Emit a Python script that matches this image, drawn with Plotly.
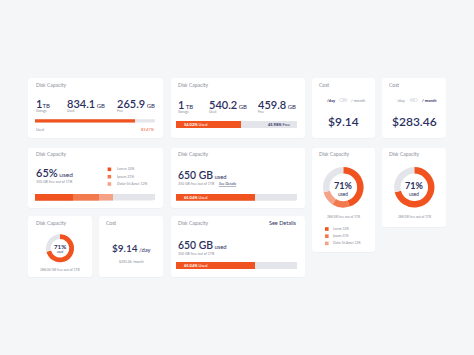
import plotly.graph_objects as go
import numpy as np

W, H = 474, 355

# ---------------- data ----------------
storage_total_tb = 1
storage_used_gb = [834.1, 540.2]
storage_free_gb = [265.9, 459.8]
used_pct_a = 83.47
used_pct_b = 54.02
free_pct_b = 45.98
cost_per_day = 9.14
cost_per_month = 283.46
usage_pct = 65
usage_free_gb = 350
breakdown_labels = ["Lorem", "Ipsum", "Dolor Sit Amet"]
breakdown_pct = [32, 21, 12]
used_gb_large = 650
used_pct_large = 65.04
donut_used_pct = 71
donut_breakdown = [45, 14, 12]          # arc sizes as drawn in the ring
donut_free_gb = 288
donut_free_gb_small = 288.06

# ---------------- style ----------------
BG = "#f5f6f8"
NAVY = "#2b2f5e"
GRAY = "#8b8e9a"
ORANGE = "#f0531f"
TRACK = "#e4e5ea"
SEG_COLORS = ["#f0531f", "#f27a4e", "#f5a287"]
FONT = "Lato"

def X(x):
    return x / W

def Y(y):
    return 1 - y / H

shapes = []
annotations = []

def rrect(x0, y0, x1, y1, r, fill, layer="below"):
    p = (f"M {X(x0+r)},{Y(y0)} L {X(x1-r)},{Y(y0)} Q {X(x1)},{Y(y0)} {X(x1)},{Y(y0+r)} "
         f"L {X(x1)},{Y(y1-r)} Q {X(x1)},{Y(y1)} {X(x1-r)},{Y(y1)} "
         f"L {X(x0+r)},{Y(y1)} Q {X(x0)},{Y(y1)} {X(x0)},{Y(y1-r)} "
         f"L {X(x0)},{Y(y0+r)} Q {X(x0)},{Y(y0)} {X(x0+r)},{Y(y0)} Z")
    shapes.append(dict(type="path", path=p, xref="paper", yref="paper",
                       fillcolor=fill, line=dict(width=0), layer=layer))

def txt(x, y, s, size, color=GRAY, xa="left", ya="middle", weight="normal"):
    annotations.append(dict(x=X(x), y=Y(y), xref="paper", yref="paper", text=s,
                            showarrow=False, xanchor=xa, yanchor=ya, borderpad=0,
                            font=dict(family=FONT, size=size, color=color, weight=weight)))

def unit(s, size, color=NAVY):
    return f"<span style='font-size:{size}px;font-weight:400;color:{color}'>{s}</span>"

# ---------------- cards ----------------
cards = [
    (28, 78, 163, 138), (171, 78, 305, 138), (312, 78, 375, 138), (382, 78, 446, 138),
    (28, 148, 163, 208), (171, 148, 305, 208), (312, 148, 375, 252), (382, 148, 446, 227),
    (28, 216, 92, 277), (99, 216, 163, 277), (171, 216, 305, 277),
]
for (x0, y0, x1, y1) in cards:
    rrect(x0, y0 + 0.6, x1, y1 + 0.8, 3, "#eceef1")
    rrect(x0, y0, x1, y1, 3, "#ffffff")

fig = go.Figure()

# ---------------- progress bars ----------------
def add_bar(idx, x0, y0, x1, y1, values, colors, radius):
    xa = "x" if idx == 1 else f"x{idx}"
    ya = "y" if idx == 1 else f"y{idx}"
    for v, c, rad in zip(values, colors, radius):
        fig.add_trace(go.Bar(x=[v], y=[0], orientation="h", width=1, xaxis=xa, yaxis=ya,
                             marker=dict(color=c, cornerradius=rad, line=dict(width=0)),
                             hoverinfo="skip", showlegend=False))
    sfx = "" if idx == 1 else str(idx)
    fig.layout[f"xaxis{sfx}"] = dict(domain=[X(x0), X(x1)], range=[0, 100],
                                     visible=False, fixedrange=True, anchor=ya)
    fig.layout[f"yaxis{sfx}"] = dict(domain=[Y(y1), Y(y0)], range=[-0.5, 0.5],
                                     visible=False, fixedrange=True, anchor=xa)

add_bar(1, 35, 119.3, 155, 122.5, [100, used_pct_a], [TRACK, ORANGE], [1.5, 1.5])
add_bar(2, 176, 120.5, 297, 128.3, [100, used_pct_b], [TRACK, ORANGE], [2, 2])
cum = np.cumsum(breakdown_pct)[::-1]
add_bar(3, 35, 193.7, 155, 200.5, [100] + list(cum), [TRACK] + SEG_COLORS[::-1], [2.5, 0, 0, 0])
add_bar(4, 176, 194, 297, 200.7, [100, used_pct_large], [TRACK, ORANGE], [2, 2])
add_bar(5, 176, 262, 297, 269.3, [100, used_pct_large], [TRACK, ORANGE], [2, 2])

# ---------------- donuts ----------------
def donut(cx, cy, r, values, colors, hole):
    fig.add_trace(go.Pie(values=values, marker=dict(colors=colors, line=dict(width=0)),
                         hole=hole, sort=False, direction="clockwise", rotation=0,
                         textinfo="none", hoverinfo="skip", showlegend=False,
                         domain=dict(x=[X(cx - r), X(cx + r)], y=[Y(cy + r), Y(cy - r)])))

donut(343.3, 187.3, 20.3, donut_breakdown + [100 - sum(donut_breakdown)], SEG_COLORS + [TRACK], 0.68)
donut(414.3, 187.3, 20.2, [donut_used_pct, 100 - donut_used_pct], [ORANGE, TRACK], 0.68)
donut(60, 248.3, 14, [donut_used_pct, 100 - donut_used_pct], [ORANGE, TRACK], 0.66)

# ---------------- card A ----------------
txt(35, 84.5, "Disk Capacity", 5)
txt(34.5, 103, f"{storage_total_tb}{unit('TB', 6)}", 11, NAVY, weight=600)
txt(65.5, 103, f"{storage_used_gb[0]}{unit(' GB', 6)}", 11, NAVY, weight=600)
txt(115.5, 103, f"{storage_free_gb[0]}{unit(' GB', 6)}", 11, NAVY, weight=600)
txt(35, 110.8, "Storage", 3.3)
txt(66, 110.8, "Used", 3.3)
txt(116, 110.8, "Free", 3.3)
txt(35, 130, "Used", 3.6)
txt(155, 130, f"{used_pct_a}%", 3.8, ORANGE, xa="right")

# ---------------- card B ----------------
txt(177, 84.5, "Disk Capacity", 5)
txt(176.5, 104, f"{storage_total_tb}{unit(' TB', 6)}", 11, NAVY, weight=600)
txt(207.5, 104, f"{storage_used_gb[1]}{unit(' GB', 6)}", 11, NAVY, weight=600)
txt(256.5, 104, f"{storage_free_gb[1]}{unit(' GB', 6)}", 11, NAVY, weight=600)
txt(177, 112, "Storage", 3.3)
txt(208, 112, "Used", 3.3)
txt(257, 112, "Free", 3.3)
txt(183, 124.5, f"<b>{used_pct_b}%</b> Used", 4, "#ffffff")
txt(291, 124.5, f"<b>{free_pct_b}%</b> Free", 4, NAVY, xa="right")

# ---------------- card C / D (cost toggles) ----------------
def toggle(x0, x1, y0, y1, knob_left):
    rrect(x0, y0, x1, y1, (y1 - y0) / 2, "#e6e7ec", layer="above")
    cx = x0 + 1.7 if knob_left else x1 - 1.7
    shapes.append(dict(type="circle", xref="paper", yref="paper",
                       x0=X(cx - 1.6), x1=X(cx + 1.6), y0=Y(100 + 1.6), y1=Y(100 - 1.6),
                       fillcolor="#ffffff", line=dict(color="#d2d4db", width=0.5), layer="above"))

txt(318, 84.5, "Cost", 5)
txt(337, 100, "<b>/day</b>", 4, NAVY, xa="right")
toggle(339.5, 347.5, 98.2, 101.8, True)
txt(350, 100, "/ month", 4, GRAY)
txt(343.5, 121.5, f"${cost_per_day}", 12, NAVY, xa="center", weight=600)

txt(388, 84.5, "Cost", 5)
txt(407, 100, "/day", 4, GRAY, xa="right")
toggle(409.5, 417.5, 98.2, 101.8, False)
txt(420.5, 100, "<b>/ month</b>", 4, NAVY)
txt(414.3, 121.5, f"${cost_per_month}", 12, NAVY, xa="center", weight=600)

# ---------------- card E ----------------
txt(35, 154, "Disk Capacity", 5)
txt(34.5, 172, f"{usage_pct}%{unit(' used', 6.5)}", 11, NAVY, weight=600)
txt(35, 181.7, f"{usage_free_gb} GB free out of 1TB", 3.5)
for i, (lab, pct) in enumerate(zip(breakdown_labels, breakdown_pct)):
    yy = [169.3, 176.7, 184][i]
    shapes.append(dict(type="rect", xref="paper", yref="paper", x0=X(107.6), x1=X(111.2),
                       y0=Y(yy + 1.8), y1=Y(yy - 1.8), fillcolor=SEG_COLORS[i],
                       line=dict(width=0), layer="above"))
    txt(115.5, yy, f"{lab} {pct}%", 3.5)

# ---------------- card F ----------------
txt(177, 154, "Disk Capacity", 5)
txt(176.5, 174.5, f"{used_gb_large} GB{unit(' used', 5.8)}", 10.4, NAVY, weight=600)
txt(176.5, 184, f"{1000 - used_gb_large} GB free out of 1TB", 3.5)
txt(218, 184, "<span style='text-decoration:underline'>See Details</span>", 3.5, NAVY)
txt(183, 197.3, f"<b>{used_pct_large}%</b> Used", 4, "#ffffff")

# ---------------- card G ----------------
txt(318, 154, "Disk Capacity", 5)
txt(343.3, 185, f"{donut_used_pct}%", 9, NAVY, xa="center", weight=700)
txt(343.3, 193.5, "used", 4.8, NAVY, xa="center")
txt(343.3, 216.7, f"{donut_free_gb} GB free out of 1TB", 3.2, GRAY, xa="center")
for i, (lab, pct) in enumerate(zip(breakdown_labels, breakdown_pct)):
    yy = [229, 236.2, 243.4][i]
    shapes.append(dict(type="rect", xref="paper", yref="paper", x0=X(325), x1=X(328.6),
                       y0=Y(yy + 1.8), y1=Y(yy - 1.8), fillcolor=SEG_COLORS[i],
                       line=dict(width=0), layer="above"))
    txt(331.8, yy, f"{lab} {pct}%", 3.2)

# ---------------- card H ----------------
txt(388, 154, "Disk Capacity", 5)
txt(414.3, 185, f"{donut_used_pct}%", 9, NAVY, xa="center", weight=700)
txt(414.3, 193.5, "used", 4.8, NAVY, xa="center")
txt(414.3, 216.7, f"{donut_free_gb} GB free out of 1TB", 3.2, GRAY, xa="center")

# ---------------- card I ----------------
txt(35, 222.7, "Disk Capacity", 5)
txt(60, 246.5, f"{donut_used_pct}%", 6.2, NAVY, xa="center", weight=700)
txt(60, 251.5, "used", 3, NAVY, xa="center")
txt(60, 269.7, f"{donut_free_gb_small} GB free out of 1TB", 3.4, GRAY, xa="center")

# ---------------- card J ----------------
txt(105, 222.7, "Cost", 5)
txt(131, 248, f"${cost_per_day}{unit(' /day', 5.8)}", 10, NAVY, xa="center", weight=600)
txt(131.5, 262, f"${cost_per_month} /month", 3.4, GRAY, xa="center")

# ---------------- card K ----------------
txt(177, 222.7, "Disk Capacity", 5)
txt(297.5, 222.7, "See Details", 5.5, NAVY, xa="right")
txt(176.5, 245, f"{used_gb_large} GB{unit(' used', 5.8)}", 10.4, NAVY, weight=600)
txt(176.5, 253.7, f"{1000 - used_gb_large} GB free out of 1TB", 3.5)
txt(183, 265.7, f"<b>{used_pct_large}%</b> Used", 4, "#ffffff")

fig.update_layout(
    width=W, height=H, margin=dict(l=0, r=0, t=0, b=0),
    paper_bgcolor=BG, plot_bgcolor="rgba(0,0,0,0)",
    barmode="overlay", bargap=0,
    shapes=shapes, annotations=annotations, showlegend=False,
    font=dict(family=FONT),
)

fig.write_html("out.html", config=dict(displayModeBar=False, staticPlot=True),
               post_script="document.body.style.margin='0';document.body.style.overflow='hidden';")
